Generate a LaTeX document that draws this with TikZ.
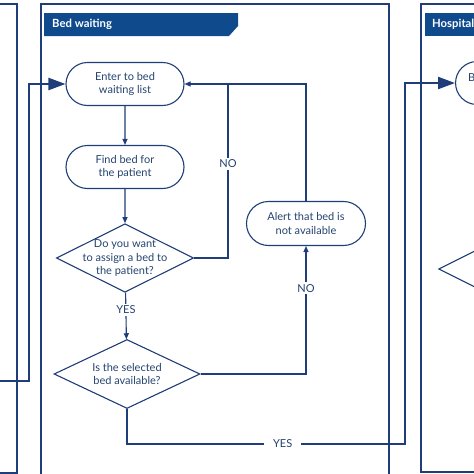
\documentclass[tikz,border=0pt]{standalone}
\usepackage{fontspec}
\setmainfont{Lato}
\usepackage{xcolor}
\usepackage{tikz}
\usetikzlibrary{arrows.meta,shapes.geometric,shapes.misc}
\definecolor{ink}{HTML}{1F3D78}
\definecolor{band}{HTML}{0F4A8C}
\definecolor{txt}{HTML}{24436F}
\tikzset{
  lane/.style={draw=ink, line width=1.4pt},
  head/.style={fill=band, draw=none},
  headlab/.style={text=white, anchor=west, inner sep=0pt, font=\fontsize{11.3}{12}\selectfont\bfseries},
  term/.style={rounded rectangle, draw=ink, line width=1.1pt, minimum width=122pt, minimum height=43pt, inner sep=2pt, text=txt, align=center, font=\fontsize{11}{13.5}\selectfont},
  ask/.style={diamond, aspect=2, draw=ink, line width=1.1pt, text=txt, align=center, font=\fontsize{11}{13.5}\selectfont},
  flow/.style={draw=ink, line width=1.1pt, -{Triangle[length=6pt,width=5pt]}},
  plain/.style={draw=ink, line width=1.1pt},
  link/.style={draw=ink, line width=2.2pt, -{Triangle[length=17pt,width=12pt]}},
  lab/.style={text=txt, fill=white, inner sep=2pt, font=\fontsize{11}{13}\selectfont},
}
\begin{document}
\begin{tikzpicture}[x=1pt,y=-1pt]
  \useasboundingbox (0,0) rectangle (474,474);
  % swimlanes
  \draw[lane] (-20,4) -- (17,4) -- (17,473) -- (-20,473);
  \draw[lane] (41,490) -- (41,4) -- (389,4) -- (389,490);
  \draw[lane] (500,472) -- (421,472) -- (421,4) -- (500,4);
  \fill[head] (44,13) -- (238,13) -- (238,26) -- (229,36) -- (44,36) -- cycle;
  \fill[head] (425,13) rectangle (500,36);
  \node[headlab] (hbed) at (52,24.5) {Bed waiting};
  \node[headlab] (hhosp) at (432,24.5) {Hospital};

  % bed waiting lane
  \node[term] (enter) at (125,84) {Enter to bed\\waiting list};
  \node[term] (find) at (125,167) {Find bed for\\the patient};
  \node[ask, minimum width=136pt, minimum height=68pt, inner sep=-3.5pt] (assign) at (125,258) {Do you want\\to assign a bed to\\the patient?};
  \node[ask, minimum width=146pt, minimum height=69pt] (avail) at (127,374) {Is the selected\\bed available?};
  \node[term, minimum width=123pt, minimum height=44pt] (alert) at (306,223.5) {Alert that bed is\\not available};

  % hospital lane (cut by the frame)
  \node[term, anchor=west] (next) at (455,83) {};
  \node[text=txt, anchor=west, inner sep=0pt, font=\fontsize{11}{13.5}\selectfont] (nextb) at (468,78) {B};
  \node[ask, minimum width=136pt, minimum height=68pt, anchor=west] (check) at (438,269) {};

  \coordinate (noup) at (228,84);
  \coordinate (inL) at (-10,381);
  \coordinate (bendL) at (29,84);
  \coordinate (yesR) at (405,444);
  \coordinate (bendR) at (405,83);

  \draw[flow] (enter) -- (find);
  \draw[flow] (find) -- (assign);
  \draw[flow] (assign) -- node[lab, pos=0.37] {YES} (avail);
  \draw[plain] (assign.east) -| node[lab, pos=0.77] {NO} (noup);
  \draw[flow] (avail.east) -- (avail.east -| alert.south) -- node[lab, pos=0.67] {NO} (alert.south);
  \draw[flow] (alert.north) |- (enter.east);

  \draw[link] (inL) -| (bendL) -- (enter.west);
  \draw[link] (avail.south) |- node[lab, pos=0.78, inner xsep=9pt] {YES} (yesR) -- (bendR) -- (next.west);
\end{tikzpicture}
\end{document}
